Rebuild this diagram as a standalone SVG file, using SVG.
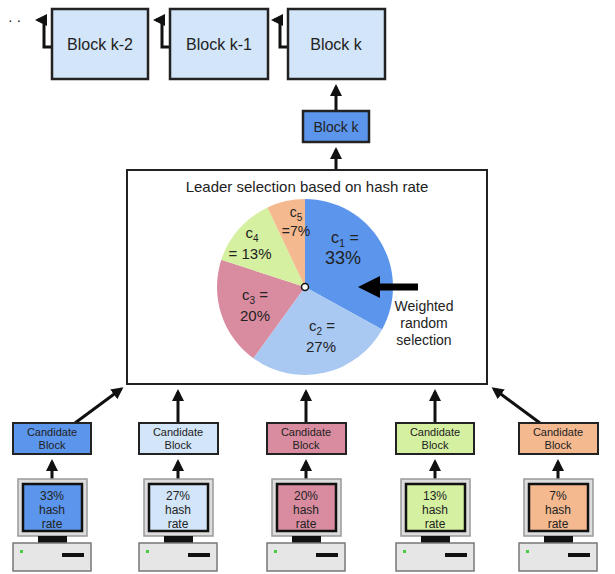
<svg xmlns="http://www.w3.org/2000/svg" width="615" height="574" viewBox="0 0 615 574">
<style>
text{font-family:"Liberation Sans",Arial,sans-serif;fill:#222}
.blk{fill:#d3e5f8;stroke:#222;stroke-width:2.5}
.cb{stroke:#222;stroke-width:2}
.ln{fill:none;stroke:#111;stroke-width:3}
.mon{fill:#ddd;stroke:#999;stroke-width:1.5}
.scr{stroke:#111;stroke-width:2.5}
.base{fill:#e6e6e6;stroke:#777;stroke-width:1.5}
</style>
<defs>
<marker id="ah" markerWidth="4" markerHeight="4" refX="3" refY="2" orient="auto" markerUnits="strokeWidth"><path d="M0,0 L4,2 L0,4 z" fill="#111"/></marker>
</defs>
<g id="connectors">
<path class="ln" d="M52,47 H44 V20 H38" marker-end="url(#ah)"/>
<path class="ln" d="M170,47 H162 V20 H156" marker-end="url(#ah)"/>
<path class="ln" d="M288,47 H280 V20 H274" marker-end="url(#ah)"/>
<line class="ln" x1="336" y1="111" x2="336" y2="87" marker-end="url(#ah)"/>
<line class="ln" x1="336" y1="170" x2="336" y2="150" marker-end="url(#ah)"/>
<line class="ln" x1="75" y1="423" x2="121" y2="389" marker-end="url(#ah)"/>
<line class="ln" x1="178" y1="423" x2="178" y2="392" marker-end="url(#ah)"/>
<line class="ln" x1="306" y1="423" x2="306" y2="392" marker-end="url(#ah)"/>
<line class="ln" x1="435" y1="423" x2="435" y2="392" marker-end="url(#ah)"/>
<line class="ln" x1="540" y1="423" x2="494" y2="389" marker-end="url(#ah)"/>
<line class="ln" x1="52" y1="479" x2="52" y2="462" marker-end="url(#ah)"/>
<line class="ln" x1="178" y1="479" x2="178" y2="462" marker-end="url(#ah)"/>
<line class="ln" x1="306" y1="479" x2="306" y2="462" marker-end="url(#ah)"/>
<line class="ln" x1="435" y1="479" x2="435" y2="462" marker-end="url(#ah)"/>
<line class="ln" x1="558" y1="479" x2="558" y2="462" marker-end="url(#ah)"/>
</g>
<text x="8" y="25" font-size="14">· ·</text>
<g id="block-k-2"><rect class="blk" x="52" y="9" width="96" height="70"/><text x="100" y="50" font-size="16" text-anchor="middle">Block k-2</text></g>
<g id="block-k-1"><rect class="blk" x="170" y="9" width="98" height="70"/><text x="219" y="50" font-size="16" text-anchor="middle">Block k-1</text></g>
<g id="block-k"><rect class="blk" x="288" y="9" width="97" height="70"/><text x="336" y="50" font-size="16" text-anchor="middle">Block k</text></g>
<g id="block-k-new"><rect x="303" y="111" width="66" height="31" fill="#5b95ec" stroke="#222" stroke-width="2.5"/><text x="336" y="132" font-size="14" text-anchor="middle">Block k</text></g>
<g id="leader">
<rect x="127" y="170" width="360" height="214" fill="#fff" stroke="#222" stroke-width="2"/>
<text x="307" y="192" font-size="15" text-anchor="middle">Leader selection based on hash rate</text>
<path d="M305,287 L305,199 A88,88 0 0 1 382.1,329.4 Z" fill="#5b95ec"/>
<path d="M305,287 L382.1,329.4 A88,88 0 0 1 253.3,358.2 Z" fill="#a9c9f2"/>
<path d="M305,287 L253.3,358.2 A88,88 0 0 1 221.3,259.8 Z" fill="#d98ca0"/>
<path d="M305,287 L221.3,259.8 A88,88 0 0 1 267.5,207.4 Z" fill="#d5f0a0"/>
<path d="M305,287 L267.5,207.4 A88,88 0 0 1 305,199 Z" fill="#f5b990"/>
<circle cx="305" cy="287" r="3.5" fill="#fff" stroke="#111" stroke-width="1.5"/>
<text x="345" y="243" font-size="16" text-anchor="middle" fill="#1b3a70">c<tspan font-size="11" dy="4">1</tspan><tspan dy="-4"> =</tspan></text>
<text x="343" y="264" font-size="18" text-anchor="middle" fill="#1b3a70">33%</text>
<text x="296" y="217" font-size="14" text-anchor="middle">c<tspan font-size="10" dy="4">5</tspan></text>
<text x="296" y="236" font-size="14" text-anchor="middle">=7%</text>
<text x="252" y="238" font-size="15" text-anchor="middle">c<tspan font-size="10" dy="4">4</tspan></text>
<text x="250" y="259" font-size="15" text-anchor="middle">= 13%</text>
<text x="255" y="300" font-size="15" text-anchor="middle">c<tspan font-size="10" dy="4">3</tspan><tspan dy="-4"> =</tspan></text>
<text x="255" y="321" font-size="15" text-anchor="middle">20%</text>
<text x="322" y="331" font-size="15" text-anchor="middle">c<tspan font-size="10" dy="4">2</tspan><tspan dy="-4"> =</tspan></text>
<text x="321" y="352" font-size="15" text-anchor="middle">27%</text>
<path d="M418,287 H378" stroke="#000" stroke-width="7"/>
<path d="M358,287 L380,276 L380,298 Z" fill="#000"/>
<text x="424" y="311" font-size="14" text-anchor="middle">Weighted</text>
<text x="424" y="328" font-size="14" text-anchor="middle">random</text>
<text x="424" y="345" font-size="14" text-anchor="middle">selection</text>
</g>
<g id="candidate-1"><rect class="cb" x="13" y="423" width="78" height="31" fill="#5b95ec"/><text x="52" y="436" font-size="11" text-anchor="middle">Candidate</text><text x="52" y="449" font-size="11" text-anchor="middle">Block</text></g>
<g id="candidate-2"><rect class="cb" x="139" y="423" width="79" height="31" fill="#d3e5f8"/><text x="178" y="436" font-size="11" text-anchor="middle">Candidate</text><text x="178" y="449" font-size="11" text-anchor="middle">Block</text></g>
<g id="candidate-3"><rect class="cb" x="267" y="423" width="79" height="31" fill="#d98ca0"/><text x="306" y="436" font-size="11" text-anchor="middle">Candidate</text><text x="306" y="449" font-size="11" text-anchor="middle">Block</text></g>
<g id="candidate-4"><rect class="cb" x="396" y="423" width="78" height="31" fill="#d5f0a0"/><text x="435" y="436" font-size="11" text-anchor="middle">Candidate</text><text x="435" y="449" font-size="11" text-anchor="middle">Block</text></g>
<g id="candidate-5"><rect class="cb" x="519" y="423" width="79" height="31" fill="#f5b990"/><text x="558" y="436" font-size="11" text-anchor="middle">Candidate</text><text x="558" y="449" font-size="11" text-anchor="middle">Block</text></g>
<g id="pc-1"><rect class="mon" x="18" y="479" width="69" height="57"/><rect class="scr" x="23" y="484" width="59" height="47" fill="#5b95ec"/><rect x="38" y="536" width="29" height="7" fill="#111"/><rect class="base" x="13" y="543" width="78" height="28"/><rect x="20" y="550" width="3" height="3" fill="#4c4"/><rect x="62" y="553" width="22" height="4" fill="#111"/><text x="52" y="500" font-size="12" text-anchor="middle">33%</text><text x="52" y="514" font-size="12" text-anchor="middle">hash</text><text x="52" y="528" font-size="12" text-anchor="middle">rate</text></g>
<g id="pc-2"><rect class="mon" x="144" y="479" width="69" height="57"/><rect class="scr" x="149" y="484" width="59" height="47" fill="#d3e5f8"/><rect x="164" y="536" width="29" height="7" fill="#111"/><rect class="base" x="139" y="543" width="78" height="28"/><rect x="146" y="550" width="3" height="3" fill="#4c4"/><rect x="188" y="553" width="22" height="4" fill="#111"/><text x="178" y="500" font-size="12" text-anchor="middle">27%</text><text x="178" y="514" font-size="12" text-anchor="middle">hash</text><text x="178" y="528" font-size="12" text-anchor="middle">rate</text></g>
<g id="pc-3"><rect class="mon" x="272" y="479" width="69" height="57"/><rect class="scr" x="277" y="484" width="59" height="47" fill="#d98ca0"/><rect x="292" y="536" width="29" height="7" fill="#111"/><rect class="base" x="267" y="543" width="78" height="28"/><rect x="274" y="550" width="3" height="3" fill="#4c4"/><rect x="316" y="553" width="22" height="4" fill="#111"/><text x="306" y="500" font-size="12" text-anchor="middle">20%</text><text x="306" y="514" font-size="12" text-anchor="middle">hash</text><text x="306" y="528" font-size="12" text-anchor="middle">rate</text></g>
<g id="pc-4"><rect class="mon" x="401" y="479" width="69" height="57"/><rect class="scr" x="406" y="484" width="59" height="47" fill="#d5f0a0"/><rect x="421" y="536" width="29" height="7" fill="#111"/><rect class="base" x="396" y="543" width="78" height="28"/><rect x="403" y="550" width="3" height="3" fill="#4c4"/><rect x="445" y="553" width="22" height="4" fill="#111"/><text x="435" y="500" font-size="12" text-anchor="middle">13%</text><text x="435" y="514" font-size="12" text-anchor="middle">hash</text><text x="435" y="528" font-size="12" text-anchor="middle">rate</text></g>
<g id="pc-5"><rect class="mon" x="524" y="479" width="69" height="57"/><rect class="scr" x="529" y="484" width="59" height="47" fill="#f5b990"/><rect x="544" y="536" width="29" height="7" fill="#111"/><rect class="base" x="519" y="543" width="78" height="28"/><rect x="526" y="550" width="3" height="3" fill="#4c4"/><rect x="568" y="553" width="22" height="4" fill="#111"/><text x="558" y="500" font-size="12" text-anchor="middle">7%</text><text x="558" y="514" font-size="12" text-anchor="middle">hash</text><text x="558" y="528" font-size="12" text-anchor="middle">rate</text></g>
</svg>
